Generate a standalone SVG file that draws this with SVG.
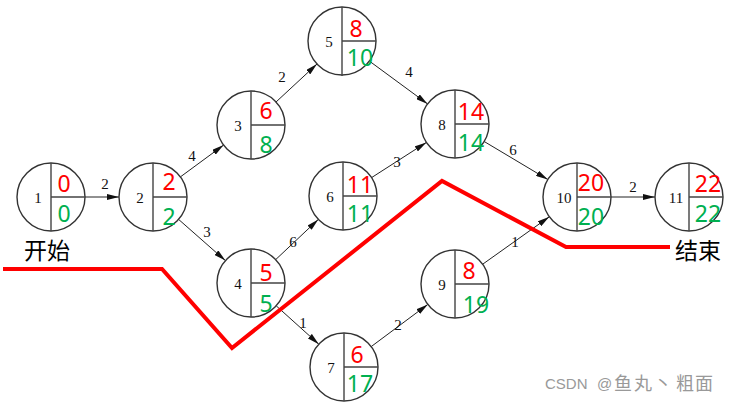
<svg xmlns="http://www.w3.org/2000/svg" width="731" height="404" viewBox="0 0 731 404">
<style>
.c{fill:#fff;stroke:#333;stroke-width:1.4}
.d{stroke:#444;stroke-width:1.4;fill:none}
.e{stroke:#222;stroke-width:1;fill:none;marker-end:url(#ah)}
.n{font-family:"Liberation Serif","DejaVu Serif",serif;font-size:15px;fill:#111;text-anchor:middle}
.w{font-family:"Liberation Serif","DejaVu Serif",serif;font-size:15px;fill:#111;text-anchor:middle}
.r{font-family:"Noto Sans","DejaVu Sans",sans-serif;font-size:23px;fill:#ff0000;text-anchor:middle}
.g{font-family:"Noto Sans","DejaVu Sans",sans-serif;font-size:23px;fill:#00b050;text-anchor:middle}
.cj{font-family:"Noto Sans CJK SC","Noto Sans",sans-serif;font-size:23px;fill:#000}
.wm{fill:#999}
.wl{font-family:"Liberation Sans",Arial,sans-serif;font-size:15px}
.wc{font-family:"Noto Sans CJK SC",sans-serif;font-size:18px}
</style>
<defs>
<marker id="ah" markerUnits="userSpaceOnUse" markerWidth="12" markerHeight="6" refX="12" refY="3" orient="auto">
<path d="M0,0 L12,3 L0,6 z" fill="#111"/>
</marker>
</defs>
<rect width="731" height="404" fill="#fff"/>
<g id="connectors">
<line class="e" x1="85" y1="197" x2="119" y2="197"/>
<line class="e" x1="180.4" y1="176.9" x2="223.6" y2="145.1"/>
<line class="e" x1="178.6" y1="219.4" x2="225.4" y2="260.6"/>
<line class="e" x1="276" y1="102" x2="317" y2="64"/>
<line class="e" x1="369.4" y1="61.1" x2="427.6" y2="103.9"/>
<line class="e" x1="275.7" y1="259.6" x2="318.3" y2="219.4"/>
<line class="e" x1="371.6" y1="177.6" x2="426.4" y2="142.4"/>
<line class="e" x1="276.2" y1="305.8" x2="318.8" y2="344.2"/>
<line class="e" x1="371.2" y1="346.6" x2="427.8" y2="304.4"/>
<line class="e" x1="484.2" y1="141.5" x2="547.8" y2="179.5"/>
<line class="e" x1="482.7" y1="264.2" x2="549.3" y2="216.8"/>
<line class="e" x1="611" y1="197" x2="655" y2="197"/>
<text class="w" x="105" y="189">2</text>
<text class="w" x="192" y="161">4</text>
<text class="w" x="207" y="237">3</text>
<text class="w" x="282" y="82">2</text>
<text class="w" x="409" y="77">4</text>
<text class="w" x="293" y="247">6</text>
<text class="w" x="397" y="167">3</text>
<text class="w" x="303" y="328">1</text>
<text class="w" x="398" y="330">2</text>
<text class="w" x="513" y="155">6</text>
<text class="w" x="515" y="247">1</text>
<text class="w" x="633" y="192">2</text>
</g>
<g id="n1"><circle class="c" cx="51" cy="197" r="34"/><path class="d" d="M51,163 V231 M51,197 H85"/><text class="n" x="38" y="203">1</text><text class="r" x="64" y="192">0</text><text class="g" x="64" y="222">0</text></g>
<g id="n2"><circle class="c" cx="153" cy="197" r="34"/><path class="d" d="M153,163 V231 M153,197 H187"/><text class="n" x="140" y="203">2</text><text class="r" x="169" y="190">2</text><text class="g" x="169" y="225">2</text></g>
<g id="n3"><circle class="c" cx="251" cy="125" r="34"/><path class="d" d="M251,91 V159 M251,125 H285"/><text class="n" x="238" y="131">3</text><text class="r" x="266" y="119">6</text><text class="g" x="266" y="153">8</text></g>
<g id="n5"><circle class="c" cx="342" cy="41" r="34"/><path class="d" d="M342,7 V76 M342,41 H376"/><text class="n" x="329" y="47">5</text><text class="r" x="356" y="37">8</text><text class="g" x="360" y="66">10</text></g>
<g id="n8"><circle class="c" cx="455" cy="124" r="34"/><path class="d" d="M455,90 V158 M455,124 H489"/><text class="n" x="442" y="130">8</text><text class="r" x="471" y="120">14</text><text class="g" x="471" y="151">14</text></g>
<g id="n6"><circle class="c" cx="343" cy="196" r="34"/><path class="d" d="M343,162 V230 M343,196 H377"/><text class="n" x="330" y="202">6</text><text class="r" x="360" y="193">11</text><text class="g" x="360" y="222">11</text></g>
<g id="n4"><circle class="c" cx="251" cy="283" r="34"/><path class="d" d="M251,249 V317 M251,283 H285"/><text class="n" x="238" y="289">4</text><text class="r" x="266" y="281">5</text><text class="g" x="266" y="312">5</text></g>
<g id="n7"><circle class="c" cx="344" cy="367" r="34"/><path class="d" d="M344,333 V401 M344,367 H378"/><text class="n" x="331" y="373">7</text><text class="r" x="357" y="363">6</text><text class="g" x="360" y="392">17</text></g>
<g id="n9"><circle class="c" cx="455" cy="284" r="34"/><path class="d" d="M455,250 V318 M455,284 H489"/><text class="n" x="442" y="290">9</text><text class="r" x="469" y="279">8</text><text class="g" x="476" y="313">19</text></g>
<g id="n10"><circle class="c" cx="577" cy="197" r="34"/><path class="d" d="M577,163 V231 M577,197 H611"/><text class="n" x="564" y="203">10</text><text class="r" x="591" y="191">20</text><text class="g" x="591" y="225">20</text></g>
<g id="n11"><circle class="c" cx="689" cy="197" r="34"/><path class="d" d="M689,163 V231 M689,197 H723"/><text class="n" x="676" y="203">11</text><text class="r" x="708" y="192">22</text><text class="g" x="708" y="222">22</text></g>
<polyline points="3,269 162,269 232,348 442,181 566,247 670,247" fill="none" stroke="#ff0000" stroke-width="4" stroke-linejoin="miter"/>
<text class="cj" x="24" y="259">开始</text>
<text class="cj" x="675" y="259">结束</text>
<text class="wm wl" x="545" y="389">CSDN</text>
<text class="wm wl" x="597" y="389">@</text>
<text class="wm wc" x="614 634 654 676 695" y="390">鱼丸丶粗面</text>
</svg>
